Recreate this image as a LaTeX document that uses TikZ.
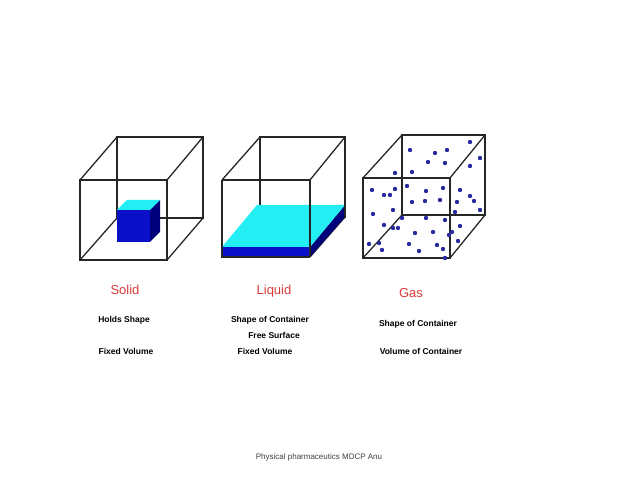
\documentclass[tikz,border=0pt]{standalone}
\usepackage{fontspec}
\setmainfont{Liberation Sans}
\definecolor{hred}{HTML}{D83A3A}
\definecolor{dblue}{HTML}{0A10C8}
\definecolor{navy}{HTML}{00007A}
\definecolor{cyanl}{HTML}{22EEF4}
\definecolor{dotc}{HTML}{2A2AA0}
\begin{document}
\begin{tikzpicture}[x=1pt,y=-1pt,
  edge/.style={draw=black!85,line width=1.3pt},
  head/.style={text=hred,font=\fontsize{13}{15}\selectfont},
  prop/.style={font=\bfseries\fontsize{8.5}{10}\selectfont},
  dot/.style={fill=dotc,draw=none}]
\useasboundingbox (0,0) rectangle (638,478);
% ---- Solid
\coordinate (s1) at (80,180); \coordinate (s2) at (167,180);
\coordinate (s3) at (167,260); \coordinate (s4) at (80,260);
\coordinate (t1) at (117,137); \coordinate (t2) at (203,137);
\coordinate (t3) at (203,218); \coordinate (t4) at (117,218);
\draw[edge] (t1)--(t2)--(t3)--(t4)--cycle;
\draw[edge] (t1)--(s1) (t2)--(s2) (t3)--(s3) (t4)--(s4);
\fill[navy] (150,210)--(160,200)--(160,232)--(150,242)--cycle;
\fill[cyanl] (117,210)--(127,200)--(160,200)--(150,210)--cycle;
\fill[dblue] (117,210) rectangle (150,242);
\draw[edge] (s1)--(s2)--(s3)--(s4)--cycle;
% ---- Liquid
\coordinate (l1) at (222,180); \coordinate (l2) at (310,180);
\coordinate (l3) at (310,257); \coordinate (l4) at (222,257);
\coordinate (m1) at (260,137); \coordinate (m2) at (345,137);
\coordinate (m3) at (345,217); \coordinate (m4) at (260,217);
\draw[edge] (m1)--(m2)--(m3)--(m4)--cycle;
\draw[edge] (m1)--(l1) (m2)--(l2) (m3)--(l3) (m4)--(l4);
\fill[navy] (310,247)--(345,205)--(345,217)--(310,257)--cycle;
\fill[dblue] (222,247) rectangle (310,257);
\fill[cyanl] (222,247)--(257,205)--(345,205)--(310,247)--cycle;
\draw[edge] (l2)--(l3) (l1)--(l4)--(l3);
\draw[edge] (l1)--(l2);
\draw[edge] (m2)--(m3);
% ---- Gas
\coordinate (g1) at (363,178); \coordinate (g2) at (450,178);
\coordinate (g3) at (450,258); \coordinate (g4) at (363,258);
\coordinate (h1) at (402,135); \coordinate (h2) at (485,135);
\coordinate (h3) at (485,215); \coordinate (h4) at (402,215);
\draw[edge] (h1)--(h2)--(h3)--(h4)--cycle;
\draw[edge] (h1)--(g1) (h2)--(g2) (h3)--(g3) (h4)--(g4);
\draw[edge] (g1)--(g2)--(g3)--(g4)--cycle;
\foreach \x/\y in {470/142,410/150,435/153,447/150,480/158,428/162,445/163,470/166,
  412/172,395/173,395/189,407/186,426/191,443/188,460/190,390/195,470/196,
  372/190,384/195,412/202,425/201,440/200,457/202,393/210,474/201,
  480/210,455/212,373/214,384/225,402/218,426/218,445/220,460/226,393/228,
  415/233,409/244,398/228,433/232,449/235,437/245,443/249,419/251,382/250,
  369/244,379/243,445/258,452/232,458/241}
  \fill[dot] (\x,\y) circle (2.2);
% ---- labels
\node[head] (hs) at (125,290) {Solid};
\node[head] (hl) at (274,291) {Liquid};
\node[head] (hg) at (411,293) {Gas};
\node[prop] (ps1) at (124,320) {Holds Shape};
\node[prop] (ps2) at (126,351) {Fixed Volume};
\node[prop] (pl1) at (270,320) {Shape of Container};
\node[prop] (pl2) at (274,335) {Free Surface};
\node[prop] (pl3) at (265,351) {Fixed Volume};
\node[prop] (pg1) at (418,324) {Shape of Container};
\node[prop] (pg2) at (421,351) {Volume of Container};
\node[font=\fontsize{8}{10}\selectfont,text=black!75] (ft) at (319,457) {Physical pharmaceutics MDCP Anu};
\end{tikzpicture}
\end{document}
